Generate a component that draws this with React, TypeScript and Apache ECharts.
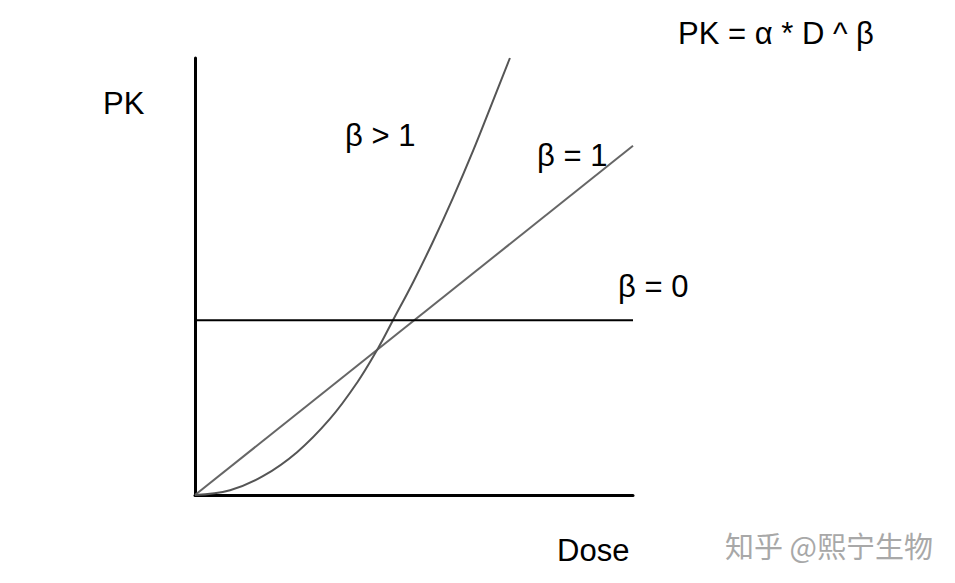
import React, { useEffect, useRef } from "react";
import * as echarts from "echarts";

// Data (dose and PK in arbitrary units, 0..10)
const flatDose = [0, 10];
const flatPK = [4.0, 4.0];

const linearDose = [0, 10];
const linearPK = [0, 7.99];

const powerDose = [0, 0.8, 1.55, 2.33, 3.08, 3.7, 4.18, 4.52, 4.98, 5.43, 5.89, 6.35, 6.74, 7.19];
const powerPK = [0, 0.11, 0.43, 0.98, 1.74, 2.57, 3.36, 4.0, 4.87, 5.79, 6.8, 7.88, 8.86, 10.0];

const labels = {
  formula: "PK = α * D ^ β",
  yName: "PK",
  xName: "Dose",
  gt1: "β > 1",
  eq1: "β = 1",
  eq0: "β = 0",
  watermark: "知乎 @熙宁生物",
};

const zip = (xs: number[], ys: number[]) => xs.map((x, i) => [x, ys[i]]);

export default function App() {
  const ref = useRef<HTMLDivElement>(null);
  useEffect(() => {
    if (!ref.current) return;
    const chart = echarts.init(ref.current, null, { renderer: "svg" });
    const font = "Liberation Sans, Arial, sans-serif";
    const txt = (x: number, y: number, text: string, extra: any = {}) => ({
      type: "text",
      x,
      y,
      style: {
        text,
        fill: "#000",
        font: `31px ${font}`,
        textAlign: "left",
        textVerticalAlign: "middle",
        ...extra,
      },
    });
    chart.setOption({
      animation: false,
      backgroundColor: "#fff",
      grid: { left: 195, top: 58, width: 438, height: 437, containLabel: false },
      xAxis: {
        type: "value",
        min: 0,
        max: 10,
        axisLine: { show: true, onZero: false, lineStyle: { color: "#000", width: 3 } },
        axisTick: { show: false },
        axisLabel: { show: false },
        splitLine: { show: false },
      },
      yAxis: {
        type: "value",
        min: 0,
        max: 10,
        axisLine: { show: true, onZero: false, lineStyle: { color: "#000", width: 3 } },
        axisTick: { show: false },
        axisLabel: { show: false },
        splitLine: { show: false },
      },
      series: [
        {
          type: "line",
          data: zip(flatDose, flatPK),
          showSymbol: false,
          lineStyle: { color: "#000", width: 2 },
          z: 3,
        },
        {
          type: "line",
          data: zip(linearDose, linearPK),
          showSymbol: false,
          lineStyle: { color: "#666", width: 2 },
          z: 2,
        },
        {
          type: "line",
          data: zip(powerDose, powerPK),
          smooth: 0.4,
          showSymbol: false,
          lineStyle: { color: "#555", width: 2 },
          z: 2,
        },
      ],
      graphic: [
        txt(678, 33, labels.formula),
        txt(103, 103, labels.yName),
        txt(557, 550, labels.xName),
        txt(345, 135, labels.gt1),
        txt(537, 155, labels.eq1),
        txt(618, 286, labels.eq0),
        txt(725, 545, labels.watermark, {
          fill: "#a8a8a8",
          font: `29px "Noto Sans CJK SC", sans-serif`,
        }),
      ],
    });
    return () => chart.dispose();
  }, []);
  return (
    <div
      ref={ref}
      style={{ position: "absolute", left: 0, top: 0, width: 955, height: 583 }}
    />
  );
}
